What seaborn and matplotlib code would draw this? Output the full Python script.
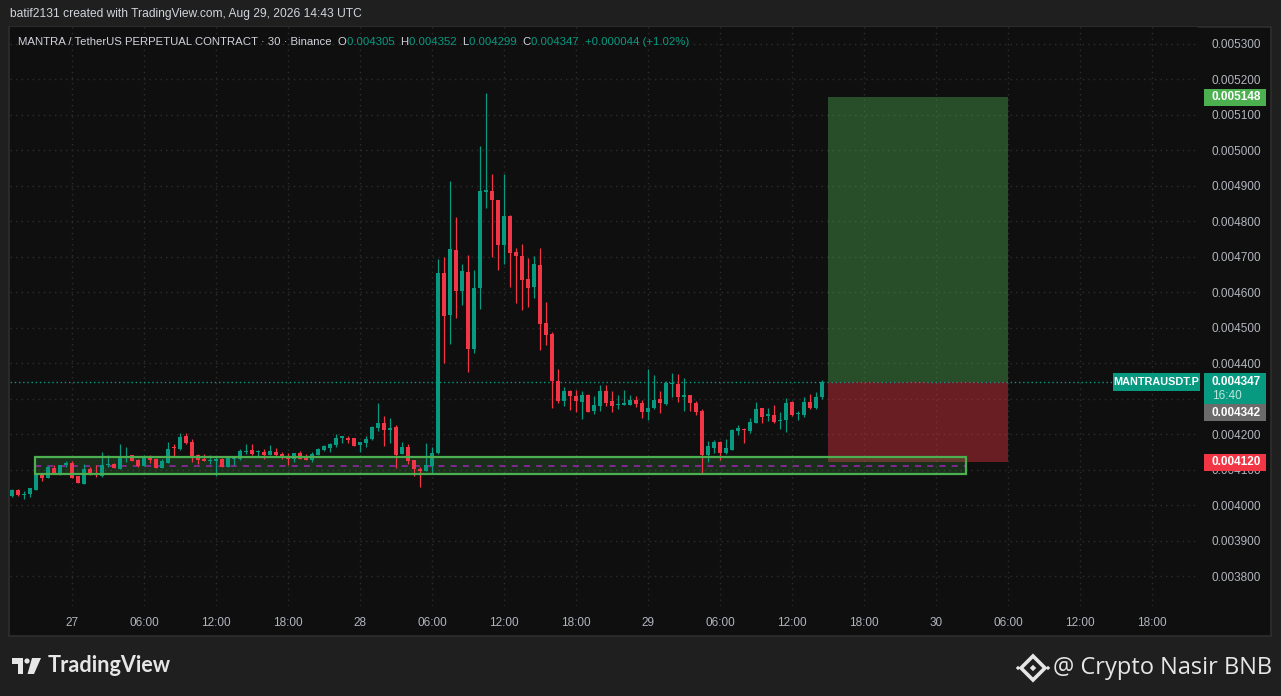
import numpy as np
import pandas as pd
import matplotlib
matplotlib.use("Agg")
import matplotlib.pyplot as plt
import matplotlib.transforms as mtrans
from matplotlib.patches import Rectangle, Polygon, Circle
import seaborn as sns

# ---------------- data ----------------
start_time = "2026-08-26 19:00"
opens = [0.004025, 0.004042, 0.004029, 0.004032, 0.004042, 0.004085, 0.004077, 0.004105, 0.004085, 0.004112,
         0.004119, 0.004082, 0.004059, 0.004101, 0.004090, 0.004082, 0.004113, 0.004115, 0.004101, 0.004134,
         0.004141, 0.004127, 0.004110, 0.004138, 0.004129, 0.004104, 0.004118, 0.004163, 0.004158, 0.004194,
         0.004177, 0.004141, 0.004130, 0.004124, 0.004125, 0.004130, 0.004108, 0.004130, 0.004130, 0.004149,
         0.004155, 0.004149, 0.004149, 0.004141, 0.004149, 0.004144, 0.004136, 0.004130, 0.004146, 0.004133,
         0.004128, 0.004142, 0.004155, 0.004161, 0.004169, 0.004190, 0.004189, 0.004189, 0.004169, 0.004175,
         0.004186, 0.004217, 0.004231, 0.004211, 0.004220, 0.004144, 0.004163, 0.004127, 0.004101, 0.004096,
         0.004110, 0.004146, 0.004653, 0.004535, 0.004718, 0.004603, 0.004656, 0.004439, 0.004611, 0.004883,
         0.004885, 0.004859, 0.004732, 0.004814, 0.004713, 0.004701, 0.004637, 0.004614, 0.004676, 0.004513,
         0.004482, 0.004349, 0.004293, 0.004321, 0.004307, 0.004291, 0.004310, 0.004265, 0.004280, 0.004321,
         0.004293, 0.004282, 0.004283, 0.004283, 0.004296, 0.004287, 0.004263, 0.004273, 0.004299, 0.004285,
         0.004341, 0.004341, 0.004305, 0.004310, 0.004288, 0.004265, 0.004141, 0.004161, 0.004177, 0.004146,
         0.004155, 0.004208, 0.004215, 0.004208, 0.004231, 0.004273, 0.004252, 0.004254, 0.004237, 0.004239,
         0.004290, 0.004256, 0.004254, 0.004290, 0.004273, 0.004305]
highs = [0.004046, 0.004044, 0.004039, 0.004049, 0.004085, 0.004087, 0.004110, 0.004112, 0.004114, 0.004123,
         0.004123, 0.004083, 0.004115, 0.004108, 0.004113, 0.004150, 0.004141, 0.004117, 0.004172, 0.004163,
         0.004142, 0.004130, 0.004141, 0.004142, 0.004133, 0.004130, 0.004177, 0.004173, 0.004203, 0.004203,
         0.004186, 0.004144, 0.004144, 0.004141, 0.004138, 0.004131, 0.004134, 0.004138, 0.004158, 0.004172,
         0.004172, 0.004155, 0.004158, 0.004169, 0.004161, 0.004149, 0.004146, 0.004147, 0.004152, 0.004143,
         0.004149, 0.004161, 0.004169, 0.004176, 0.004200, 0.004193, 0.004194, 0.004190, 0.004178, 0.004194,
         0.004223, 0.004287, 0.004251, 0.004245, 0.004225, 0.004177, 0.004172, 0.004127, 0.004107, 0.004175,
         0.004163, 0.004693, 0.004699, 0.004912, 0.004810, 0.004679, 0.004704, 0.004662, 0.005011, 0.005161,
         0.004932, 0.004860, 0.004932, 0.004817, 0.004724, 0.004735, 0.004696, 0.004701, 0.004724, 0.004572,
         0.004487, 0.004383, 0.004332, 0.004324, 0.004324, 0.004321, 0.004313, 0.004307, 0.004338, 0.004338,
         0.004321, 0.004310, 0.004324, 0.004310, 0.004307, 0.004296, 0.004383, 0.004366, 0.004321, 0.004349,
         0.004372, 0.004369, 0.004358, 0.004310, 0.004293, 0.004270, 0.004180, 0.004183, 0.004180, 0.004186,
         0.004214, 0.004225, 0.004217, 0.004245, 0.004290, 0.004273, 0.004273, 0.004282, 0.004262, 0.004301,
         0.004293, 0.004265, 0.004304, 0.004313, 0.004318, 0.004352]
lows = [0.004023, 0.004025, 0.004017, 0.004023, 0.004041, 0.004068, 0.004076, 0.004087, 0.004085, 0.004107,
        0.004076, 0.004061, 0.004058, 0.004084, 0.004080, 0.004080, 0.004108, 0.004104, 0.004101, 0.004122,
        0.004124, 0.004107, 0.004110, 0.004118, 0.004104, 0.004104, 0.004118, 0.004136, 0.004155, 0.004172,
        0.004121, 0.004115, 0.004124, 0.004115, 0.004083, 0.004107, 0.004107, 0.004113, 0.004127, 0.004144,
        0.004141, 0.004138, 0.004130, 0.004141, 0.004138, 0.004130, 0.004113, 0.004122, 0.004130, 0.004127,
        0.004122, 0.004141, 0.004152, 0.004150, 0.004164, 0.004176, 0.004176, 0.004166, 0.004150, 0.004164,
        0.004183, 0.004208, 0.004166, 0.004175, 0.004104, 0.004144, 0.004115, 0.004082, 0.004051, 0.004096,
        0.004090, 0.004144, 0.004401, 0.004454, 0.004528, 0.004563, 0.004376, 0.004428, 0.004552, 0.004837,
        0.004699, 0.004662, 0.004679, 0.004614, 0.004569, 0.004549, 0.004558, 0.004583, 0.004437, 0.004451,
        0.004273, 0.004287, 0.004280, 0.004268, 0.004263, 0.004242, 0.004262, 0.004256, 0.004265, 0.004280,
        0.004263, 0.004270, 0.004282, 0.004282, 0.004277, 0.004246, 0.004239, 0.004270, 0.004259, 0.004282,
        0.004304, 0.004290, 0.004266, 0.004266, 0.004254, 0.004091, 0.004122, 0.004146, 0.004127, 0.004144,
        0.004155, 0.004197, 0.004175, 0.004203, 0.004231, 0.004231, 0.004237, 0.004231, 0.004214, 0.004206,
        0.004251, 0.004239, 0.004248, 0.004270, 0.004270, 0.004299]
closes = [0.004042, 0.004029, 0.004032, 0.004048, 0.004085, 0.004077, 0.004107, 0.004088, 0.004113, 0.004118,
          0.004077, 0.004062, 0.004101, 0.004090, 0.004087, 0.004113, 0.004115, 0.004104, 0.004134, 0.004137,
          0.004124, 0.004110, 0.004138, 0.004127, 0.004104, 0.004124, 0.004157, 0.004161, 0.004192, 0.004174,
          0.004138, 0.004127, 0.004124, 0.004127, 0.004127, 0.004108, 0.004132, 0.004132, 0.004152, 0.004152,
          0.004144, 0.004152, 0.004141, 0.004152, 0.004141, 0.004132, 0.004129, 0.004146, 0.004130, 0.004128,
          0.004144, 0.004158, 0.004166, 0.004172, 0.004189, 0.004192, 0.004183, 0.004167, 0.004177, 0.004186,
          0.004220, 0.004231, 0.004211, 0.004217, 0.004141, 0.004163, 0.004125, 0.004101, 0.004096, 0.004113,
          0.004146, 0.004653, 0.004533, 0.004721, 0.004603, 0.004659, 0.004439, 0.004611, 0.004885, 0.004885,
          0.004859, 0.004732, 0.004814, 0.004710, 0.004701, 0.004634, 0.004611, 0.004679, 0.004510, 0.004479,
          0.004349, 0.004293, 0.004321, 0.004307, 0.004293, 0.004310, 0.004263, 0.004282, 0.004321, 0.004288,
          0.004280, 0.004285, 0.004285, 0.004296, 0.004285, 0.004263, 0.004273, 0.004296, 0.004287, 0.004344,
          0.004345, 0.004304, 0.004309, 0.004288, 0.004263, 0.004141, 0.004166, 0.004177, 0.004146, 0.004161,
          0.004211, 0.004217, 0.004212, 0.004234, 0.004270, 0.004248, 0.004254, 0.004234, 0.004240, 0.004287,
          0.004254, 0.004259, 0.004290, 0.004273, 0.004303, 0.004347]

price_ticks = [0.0038, 0.0039, 0.0040, 0.0041, 0.0042, 0.0043, 0.0044, 0.0045,
               0.0046, 0.0047, 0.0048, 0.0049, 0.0050, 0.0051, 0.0052, 0.0053]
hidden_tick = 0.0043  # its label sits fully under the last-price badge

support_top = 0.004135
support_bottom = 0.004087
entry_price = 0.004347
target_price = 0.005148
stop_price = 0.004120
mark_price = 0.004342
countdown = "16:40"
symbol_label = "MANTRAUSDT.P"
title_text = "MANTRA / TetherUS PERPETUAL CONTRACT · 30 · Binance"
header_text = "batif2131 created with TradingView.com, Aug 29, 2026 14:43 UTC"
watermark_text = "@ Crypto Nasir BNB"

# ---------------- style ----------------
W, H = 1281, 696
GREEN = "#089981"
RED = "#f23645"
TXT = "#b2b5be"
sns.set_theme(style="dark", rc={"figure.facecolor": "#1f1f1f"})
plt.rcParams["font.family"] = ["Liberation Sans", "DejaVu Sans"]

fig = plt.figure(figsize=(W / 100, H / 100), dpi=100, facecolor="#1f1f1f")
pix = mtrans.Affine2D().scale(1 / W, -1 / H).translate(0, 1) + fig.transFigure

# panel
fig.add_artist(Rectangle((9, 27), 1262, 609, transform=pix, facecolor="#0f0f0f",
                         edgecolor="#2e2e2e", lw=1.2, zorder=0))

ax = fig.add_axes([10 / W, 1 - 606 / H, (1198 - 10) / W, (606 - 27) / H])
ax.set_facecolor("#0f0f0f")
for s in ax.spines.values():
    s.set_visible(False)

n = len(opens)
x = np.arange(n)
o = np.array(opens); h = np.array(highs); l = np.array(lows); c = np.array(closes)
up = c >= o
cols = np.where(up, GREEN, RED)

ymin, ymax = 0.0037155, 0.0053465
ax.set_xlim(-1 / 3, 197.67)
ax.set_ylim(ymin, ymax)
dpp = (ymax - ymin) / 579.0  # data per pixel (vertical)

# time axis
times = pd.date_range(start_time, periods=198, freq="30min")
tpos, tlab = [], []
for i, t in enumerate(times):
    if t.minute == 0 and t.hour % 6 == 0:
        tpos.append(i)
        tlab.append(str(t.day) if t.hour == 0 else t.strftime("%H:%M"))
ax.set_xticks(tpos)
ax.set_xticklabels(tlab)
ax.tick_params(axis="x", length=0, pad=8, labelsize=8.5, labelcolor=TXT)

ax.yaxis.tick_right()
ax.set_yticks(price_ticks)
ax.set_yticklabels(["" if abs(v - hidden_tick) < 1e-9 else f"{v:.6f}" for v in price_ticks])
ax.tick_params(axis="y", length=0, pad=10, labelsize=8.5, labelcolor=TXT)
ax.grid(True, color="#2e2e2e", linestyle=(0, (1, 3)), linewidth=1)

# position tool
ax.add_patch(Rectangle((136, entry_price), 30, target_price - entry_price,
                       facecolor=(76 / 255, 175 / 255, 80 / 255, 0.4), lw=0, zorder=1.5))
ax.add_patch(Rectangle((136, stop_price), 30, entry_price - stop_price,
                       facecolor=(242 / 255, 54 / 255, 69 / 255, 0.4), lw=0, zorder=1.5))

# support zone
ax.add_patch(Rectangle((3.85, support_bottom), 159 - 3.85, support_top - support_bottom,
                       facecolor=(76 / 255, 175 / 255, 80 / 255, 0.2), lw=0, zorder=2))
ax.hlines((support_top + support_bottom) / 2, 3.85, 159, colors="#9c27b0",
          linestyles=(0, (4, 4)), lw=1.1, zorder=2.2)

# current price dotted line
ax.hlines(entry_price, -1, 183.5, colors=GREEN, linestyles=(0, (1, 2)), lw=1, zorder=2.3)

# candles
ax.vlines(x, l, h, colors=cols, lw=0.9, zorder=3)
body_h = np.maximum(np.abs(c - o), 1.2 * dpp)
ax.bar(x, body_h, bottom=np.minimum(o, c), width=0.75, color=cols, lw=0, zorder=4)

ax.add_patch(Rectangle((3.85, support_bottom), 159 - 3.85, support_top - support_bottom,
                       fill=False, edgecolor="#4caf50", lw=1.6, zorder=5))

# price-scale labels
bt = mtrans.blended_transform_factory(pix, ax.transData)

def price_box(price, text, bg, x0=1204, w=62, top_px=8.5, bot_px=8.5, fg="white", tx=1212):
    ax.add_patch(Rectangle((x0, price - bot_px * dpp), w, (top_px + bot_px) * dpp,
                           transform=bt, facecolor=bg, lw=0, zorder=10, clip_on=False))
    ax.text(tx, price, text, transform=bt, ha="left", va="center", fontsize=8.5,
            color=fg, fontweight="bold", zorder=11, clip_on=False)

price_box(target_price, f"{target_price:.6f}", "#4caf50")
price_box(entry_price, f"{entry_price:.6f}", GREEN, top_px=9, bot_px=22)
ax.text(1212, entry_price - 14.5 * dpp, countdown, transform=bt, ha="left", va="center",
        fontsize=8.5, color="#b9e6dc", zorder=11, clip_on=False)
price_box(entry_price - 31 * dpp, f"{mark_price:.6f}", "#6b6b6b")
price_box(stop_price, f"{stop_price:.6f}", RED)
# symbol label
ax.add_patch(Rectangle((1113, entry_price - 9 * dpp), 87, 18 * dpp, transform=bt,
                       facecolor=GREEN, lw=0, zorder=10, clip_on=False))
ax.text(1156.5, entry_price, symbol_label, transform=bt, ha="center", va="center",
        fontsize=7.8, color="white", fontweight="bold", zorder=11, clip_on=False)

# header
fig.text(10 / W, 1 - 14 / H, header_text, ha="left", va="center", fontsize=8.65, color="#d1d4dc")

# legend line with multi-colour segments
chg = closes[-1] - closes[-2]
pct = chg / closes[-2] * 100
segs = [(title_text + "  ", "#d1d4dc"), ("O", "#d1d4dc"), (f"{opens[-1]:.6f}  ", GREEN),
        ("H", "#d1d4dc"), (f"{highs[-1]:.6f}  ", GREEN), ("L", "#d1d4dc"),
        (f"{lows[-1]:.6f}  ", GREEN), ("C", "#d1d4dc"), (f"{closes[-1]:.6f}  ", GREEN),
        (f"{chg:+.6f} ({pct:+.2f}%)", GREEN)]
renderer = fig.canvas.get_renderer()
xp = 18
for s, col in segs:
    t = fig.text(xp / W, 1 - 42 / H, s, ha="left", va="center", fontsize=8.2, color=col)
    bb = t.get_window_extent(renderer=renderer)
    xp = bb.x1

# TradingView watermark
fig.add_artist(Polygon([(12, 658), (23, 658), (23, 674), (17.5, 674), (17.5, 663.5), (12, 663.5)],
                       closed=True, transform=pix, facecolor="#e6e6e6", lw=0))
fig.add_artist(Circle((27, 661), 2.6, transform=pix, facecolor="#e6e6e6", lw=0))
fig.add_artist(Polygon([(32, 658), (41, 658), (34, 674), (27.5, 674)],
                       closed=True, transform=pix, facecolor="#e6e6e6", lw=0))
fig.text(48 / W, 1 - 666 / H, "TradingView", ha="left", va="center", fontsize=15.6,
         fontweight="bold", color="#e6e6e6", family=["Lato", "DejaVu Sans"])

# Binance-like icon + credit
cx, cy = 1033, 668
fig.add_artist(Polygon([(cx, cy - 12), (cx + 12, cy), (cx, cy + 12), (cx - 12, cy)], closed=True,
                       transform=pix, facecolor="none", edgecolor="#e6e6e6", lw=2.6))
for dx, dy, r in [(0, 0, 3.2), (-15, 0, 2.2), (15, 0, 2.2)]:
    fig.add_artist(Polygon([(cx + dx, cy + dy - r), (cx + dx + r, cy + dy), (cx + dx, cy + dy + r),
                            (cx + dx - r, cy + dy)], closed=True, transform=pix,
                           facecolor="#e6e6e6", lw=0))
fig.text(1272 / W, 1 - 668 / H, watermark_text, ha="right", va="center", fontsize=17,
         color="#e6e6e6", family=["Open Sans", "DejaVu Sans"])

fig.savefig("out.png", dpi=100, facecolor=fig.get_facecolor())
